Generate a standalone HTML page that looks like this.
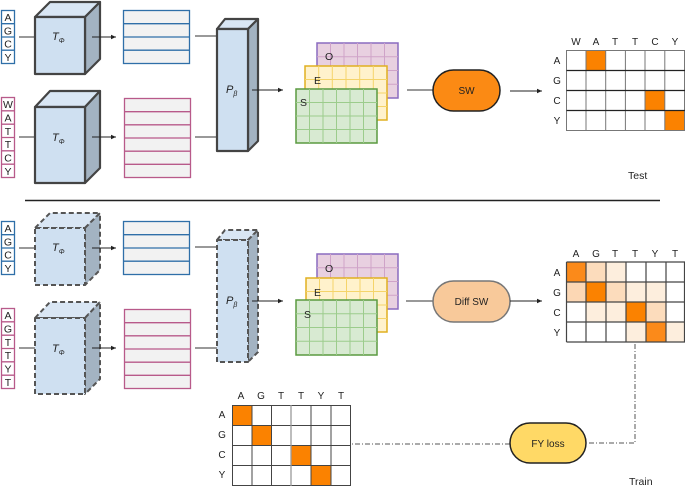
<!DOCTYPE html>
<html><head><meta charset="utf-8"><style>
html,body{margin:0;padding:0;background:#fff;width:685px;height:486px;overflow:hidden}
svg{display:block}
text{font-family:"Liberation Sans",sans-serif;fill:#222}
</style></head><body>
<svg width="685" height="486" viewBox="0 0 685 486" xmlns="http://www.w3.org/2000/svg">
<defs>
<marker id="ar" markerWidth="6" markerHeight="6" refX="5" refY="3" orient="auto"><path d="M0,0.8 L5,3 L0,5.2z" fill="#222"/></marker>
</defs>

<!-- ===== TOP ===== -->
<!-- seq boxes -->
<g stroke="#2f6fa8" stroke-width="1.3" fill="#fff">
<rect x="1.5" y="10.5" width="13" height="53"/><path d="M1.5 23.7H14.5M1.5 37H14.5M1.5 50.2H14.5"/>
</g>
<g font-size="10.5" text-anchor="middle"><text x="8" y="21">A</text><text x="8" y="34.5">G</text><text x="8" y="47.5">C</text><text x="8" y="61">Y</text></g>
<g stroke="#b85a8a" stroke-width="1.3" fill="#fff">
<rect x="1.5" y="97.5" width="13" height="80"/><path d="M1.5 110.8H14.5M1.5 124.2H14.5M1.5 137.5H14.5M1.5 150.8H14.5M1.5 164.2H14.5"/>
</g>
<g font-size="10.5" text-anchor="middle"><text x="8" y="108">W</text><text x="8" y="121.5">A</text><text x="8" y="135">T</text><text x="8" y="148">T</text><text x="8" y="161.5">C</text><text x="8" y="175">Y</text></g>
<g stroke="#333" stroke-width="1"><path d="M19 37H35M19 137H35"/></g>

<!-- cubes -->
<g stroke="#444" stroke-width="2.2" stroke-linejoin="round">
<path d="M35 17L50 2H100L85 17Z" fill="#d9e6f4"/>
<path d="M85 17L100 2V59L85 74Z" fill="#a3b3c2"/>
<rect x="35" y="17" width="50" height="57" fill="#cfe0f1"/>
<path d="M35 107L50 91H100L85 107Z" fill="#d9e6f4"/>
<path d="M85 107L100 91V168L85 183Z" fill="#a3b3c2"/>
<rect x="35" y="107" width="50" height="76" fill="#cfe0f1"/>
</g>
<text x="52" y="40" font-size="11" font-style="italic">T<tspan font-size="7" dy="3">Φ</tspan></text>
<text x="52" y="141" font-size="11" font-style="italic">T<tspan font-size="7" dy="3">Φ</tspan></text>
<g stroke="#222" stroke-width="1"><path d="M92 37H116" marker-end="url(#ar)"/><path d="M92 137H116" marker-end="url(#ar)"/></g>

<!-- tables -->
<g stroke="#2f6fa8" stroke-width="1.3" fill="#f2f2f2"><rect x="123.5" y="10.5" width="66" height="53"/><path d="M123.5 23.7H189.5M123.5 37H189.5M123.5 50.2H189.5"/></g>
<g stroke="#b85a8a" stroke-width="1.3" fill="#f2f2f2"><rect x="124.5" y="98.5" width="66" height="79"/><path d="M124.5 111.7H190.5M124.5 124.8H190.5M124.5 138H190.5M124.5 151.2H190.5M124.5 164.3H190.5"/></g>
<g stroke="#333" stroke-width="1"><path d="M195 36H217M195 137H217"/></g>

<!-- P beta -->
<g stroke="#444" stroke-width="2.2" stroke-linejoin="round">
<path d="M217 29L225 19H258L248 29Z" fill="#d9e6f4"/>
<path d="M248 29L258 19V141L248 151Z" fill="#a3b3c2"/>
<rect x="217" y="29" width="31" height="122" fill="#cfe0f1"/>
</g>
<text x="226" y="93" font-size="11" font-style="italic">P<tspan font-size="7" dy="3">β</tspan></text>
<path d="M252 90H283" stroke="#222" stroke-width="1" marker-end="url(#ar)"/>

<!-- grids top -->
<g stroke-width="1">
<rect x="317" y="43" width="81" height="55" fill="#e8d0e0" stroke="#8a6bbf" stroke-width="1.5"/>
<path d="M330.5 43V98M344 43V98M357.5 43V98M371 43V98M384.5 43V98M317 56.75H398M317 70.5H398M317 84.25H398" stroke="#cfa3c8"/>
<rect x="305" y="66" width="82" height="54" fill="#fff2cc" stroke="#e0b020" stroke-width="1.5"/>
<path d="M318.7 66V120M332.3 66V120M346 66V120M359.7 66V120M373.3 66V120M305 79.5H387M305 93H387M305 106.5H387" stroke="#f5d46a"/>
<rect x="296" y="89" width="81" height="54" fill="#d8ead2" stroke="#5a9a40" stroke-width="1.5"/>
<path d="M309.5 89V143M323 89V143M336.5 89V143M350 89V143M363.5 89V143M296 102.5H377M296 116H377M296 129.5H377" stroke="#9ccc8c"/>
</g>
<text x="325" y="60" font-size="10.5">O</text>
<text x="314" y="84" font-size="10.5">E</text>
<text x="300" y="106" font-size="10.5">S</text>
<path d="M407 90H433" stroke="#333"/>
<rect x="433" y="70" width="67" height="41" rx="20.5" fill="#fb8a14" stroke="#222" stroke-width="1.5"/>
<text x="466.5" y="94" font-size="10" text-anchor="middle">SW</text>
<path d="M510 91H542" stroke="#222" marker-end="url(#ar)"/>

<!-- top matrix -->
<g font-size="10" text-anchor="middle">
<text x="576" y="45">W</text><text x="596" y="45">A</text><text x="615" y="45">T</text><text x="635" y="45">T</text><text x="655" y="45">C</text><text x="675" y="45">Y</text>
<text x="557" y="64">A</text><text x="557" y="84">G</text><text x="557" y="104">C</text><text x="557" y="124">Y</text>
</g>
<rect x="586" y="50" width="19.7" height="20" fill="#fb8200"/>
<rect x="645" y="90" width="19.7" height="20" fill="#fb8200"/>
<rect x="665" y="110" width="20" height="21" fill="#fb8200"/>
<g fill="none" stroke="#777" stroke-width="1">
<path d="M566.5 50.5H685M566.5 130.5H685M566.5 50V131M586 50V131M605.7 50V131M625.4 50V131M645 50V131M664.8 50V131M684.5 50V131"/>
</g>
<path d="M566.5 70.5H685M566.5 90.5H685M566.5 110.5H685" stroke="#222" stroke-width="1.3"/>
<text x="628" y="179" font-size="10.5">Test</text>
<path d="M25 200.5H660" stroke="#222" stroke-width="1.5"/>

<!-- ===== BOTTOM ===== -->
<g stroke="#2f6fa8" stroke-width="1.3" fill="#fff">
<rect x="1.5" y="221.5" width="13" height="53"/><path d="M1.5 234.7H14.5M1.5 248H14.5M1.5 261.2H14.5"/>
</g>
<g font-size="10.5" text-anchor="middle"><text x="8" y="232">A</text><text x="8" y="245.5">G</text><text x="8" y="258.5">C</text><text x="8" y="272">Y</text></g>
<g stroke="#b85a8a" stroke-width="1.3" fill="#fff">
<rect x="1.5" y="308.5" width="13" height="80"/><path d="M1.5 321.8H14.5M1.5 335.2H14.5M1.5 348.5H14.5M1.5 361.8H14.5M1.5 375.2H14.5"/>
</g>
<g font-size="10.5" text-anchor="middle"><text x="8" y="319">A</text><text x="8" y="332.5">G</text><text x="8" y="346">T</text><text x="8" y="359">T</text><text x="8" y="372.5">Y</text><text x="8" y="386">T</text></g>
<g stroke="#333" stroke-width="1"><path d="M19 248H35M19 348H35"/></g>

<g stroke="#555" stroke-width="2" stroke-dasharray="5,3" stroke-linejoin="round">
<path d="M35 228L50 213H100L85 228Z" fill="#d9e6f4"/>
<path d="M85 228L100 213V270L85 285Z" fill="#a3b3c2"/>
<rect x="35" y="228" width="50" height="57" fill="#cfe0f1"/>
<path d="M35 318L50 302H100L85 318Z" fill="#d9e6f4"/>
<path d="M85 318L100 302V379L85 394Z" fill="#a3b3c2"/>
<rect x="35" y="318" width="50" height="76" fill="#cfe0f1"/>
</g>
<text x="52" y="251" font-size="11" font-style="italic">T<tspan font-size="7" dy="3">Φ</tspan></text>
<text x="52" y="352" font-size="11" font-style="italic">T<tspan font-size="7" dy="3">Φ</tspan></text>
<g stroke="#222" stroke-width="1"><path d="M92 248H116" marker-end="url(#ar)"/><path d="M92 348H116" marker-end="url(#ar)"/></g>

<g stroke="#2f6fa8" stroke-width="1.3" fill="#f2f2f2"><rect x="123.5" y="221.5" width="66" height="53"/><path d="M123.5 234.7H189.5M123.5 248H189.5M123.5 261.2H189.5"/></g>
<g stroke="#b85a8a" stroke-width="1.3" fill="#f2f2f2"><rect x="124.5" y="309.5" width="66" height="79"/><path d="M124.5 322.7H190.5M124.5 335.8H190.5M124.5 349H190.5M124.5 362.2H190.5M124.5 375.3H190.5"/></g>
<g stroke="#333" stroke-width="1"><path d="M195 247H217M195 348H217"/></g>

<g stroke="#555" stroke-width="2" stroke-dasharray="5,3" stroke-linejoin="round">
<path d="M217 240L225 230H258L248 240Z" fill="#d9e6f4"/>
<path d="M248 240L258 230V352L248 362Z" fill="#a3b3c2"/>
<rect x="217" y="240" width="31" height="122" fill="#cfe0f1"/>
</g>
<text x="226" y="304" font-size="11" font-style="italic">P<tspan font-size="7" dy="3">β</tspan></text>
<path d="M252 301H283" stroke="#222" stroke-width="1" marker-end="url(#ar)"/>

<g stroke-width="1">
<rect x="317" y="254" width="81" height="55" fill="#e8d0e0" stroke="#8a6bbf" stroke-width="1.5"/>
<path d="M330.5 254V309M344 254V309M357.5 254V309M371 254V309M384.5 254V309M317 267.75H398M317 281.5H398M317 295.25H398" stroke="#cfa3c8"/>
<rect x="306" y="278" width="81" height="54" fill="#fff2cc" stroke="#e0b020" stroke-width="1.5"/>
<path d="M319.5 278V332M333 278V332M346.5 278V332M360 278V332M373.5 278V332M306 291.5H387M306 305H387M306 318.5H387" stroke="#f5d46a"/>
<rect x="296" y="300" width="81" height="55" fill="#d8ead2" stroke="#5a9a40" stroke-width="1.5"/>
<path d="M309.5 300V355M323 300V355M336.5 300V355M350 300V355M363.5 300V355M296 313.75H377M296 327.5H377M296 341.25H377" stroke="#9ccc8c"/>
</g>
<text x="325" y="272" font-size="10.5">O</text>
<text x="314" y="296" font-size="10.5">E</text>
<text x="304" y="318" font-size="10.5">S</text>
<path d="M406 301H433" stroke="#333"/>
<rect x="433" y="281" width="77" height="41" rx="20.5" fill="#f8c99a" stroke="#777" stroke-width="1.5"/>
<text x="471.5" y="305" font-size="10" text-anchor="middle">Diff SW</text>
<path d="M510 301H542" stroke="#222" marker-end="url(#ar)"/>

<!-- bottom-right matrix -->
<g font-size="10" text-anchor="middle">
<text x="576" y="257">A</text><text x="596" y="257">G</text><text x="615" y="257">T</text><text x="635" y="257">T</text><text x="655" y="257">Y</text><text x="675" y="257">T</text>
<text x="557" y="276">A</text><text x="557" y="296">G</text><text x="557" y="316">C</text><text x="557" y="336">Y</text>
</g>
<g>
<rect x="566" y="262" width="20" height="20" fill="#fb8a1a"/><rect x="586" y="262" width="20" height="20" fill="#fcdcbc"/><rect x="606" y="262" width="20" height="20" fill="#fdeedd"/>
<rect x="566" y="282" width="20" height="20" fill="#fcd7b4"/><rect x="586" y="282" width="20" height="20" fill="#fb8200"/><rect x="606" y="282" width="20" height="20" fill="#fcdcbc"/><rect x="626" y="282" width="20" height="20" fill="#fdeedd"/><rect x="646" y="282" width="20" height="20" fill="#fdeedd"/>
<rect x="586" y="302" width="20" height="20" fill="#fdeedd"/><rect x="606" y="302" width="20" height="20" fill="#fdeedd"/><rect x="626" y="302" width="20" height="20" fill="#fb8200"/><rect x="646" y="302" width="20" height="20" fill="#fcdcbc"/>
<rect x="626" y="322" width="20" height="20" fill="#fdeedd"/><rect x="646" y="322" width="20" height="20" fill="#fb8a1a"/><rect x="666" y="322" width="19" height="20" fill="#fdeedd"/>
</g>
<g fill="none" stroke="#444" stroke-width="1.2">
<path d="M566.5 262H685M566.5 282H685M566.5 302H685M566.5 322H685M566.5 342H685M566.5 262V342M586 262V342M606 262V342M626 262V342M646 262V342M666 262V342M684.5 262V342"/>
</g>

<!-- dash-dot connectors -->
<g stroke="#555" stroke-width="1" fill="none" stroke-dasharray="5,2,1,2">
<path d="M635 344V443H587"/>
<path d="M510 444H352"/>
</g>
<rect x="510" y="423" width="76" height="40" rx="20" fill="#ffd966" stroke="#222" stroke-width="1.5"/>
<text x="548" y="447" font-size="10" text-anchor="middle">FY loss</text>

<!-- bottom-left matrix -->
<g font-size="10" text-anchor="middle">
<text x="241" y="399">A</text><text x="261" y="399">G</text><text x="281" y="399">T</text><text x="301" y="399">T</text><text x="321" y="399">Y</text><text x="341" y="399">T</text>
<text x="222" y="418">A</text><text x="222" y="438">G</text><text x="222" y="458">C</text><text x="222" y="478">Y</text>
</g>
<rect x="232" y="405" width="20" height="20" fill="#fb8200"/>
<rect x="252" y="425" width="20" height="20" fill="#fb8200"/>
<rect x="291" y="445" width="20" height="20" fill="#fb8200"/>
<rect x="311" y="465" width="20" height="20" fill="#fb8200"/>
<g fill="none" stroke="#444" stroke-width="1">
<path d="M232 405.5H351M232 425.5H351M232 445.5H351M232 465.5H351M232 485.5H351M232.5 405V486M252 405V486M271.5 405V486M311 405V486M331 405V486M350.5 405V486"/>
</g>
<path d="M291 405V486" stroke="#999" stroke-width="1.3"/>
<text x="629" y="485" font-size="10.5">Train</text>
</svg>
</body></html>
